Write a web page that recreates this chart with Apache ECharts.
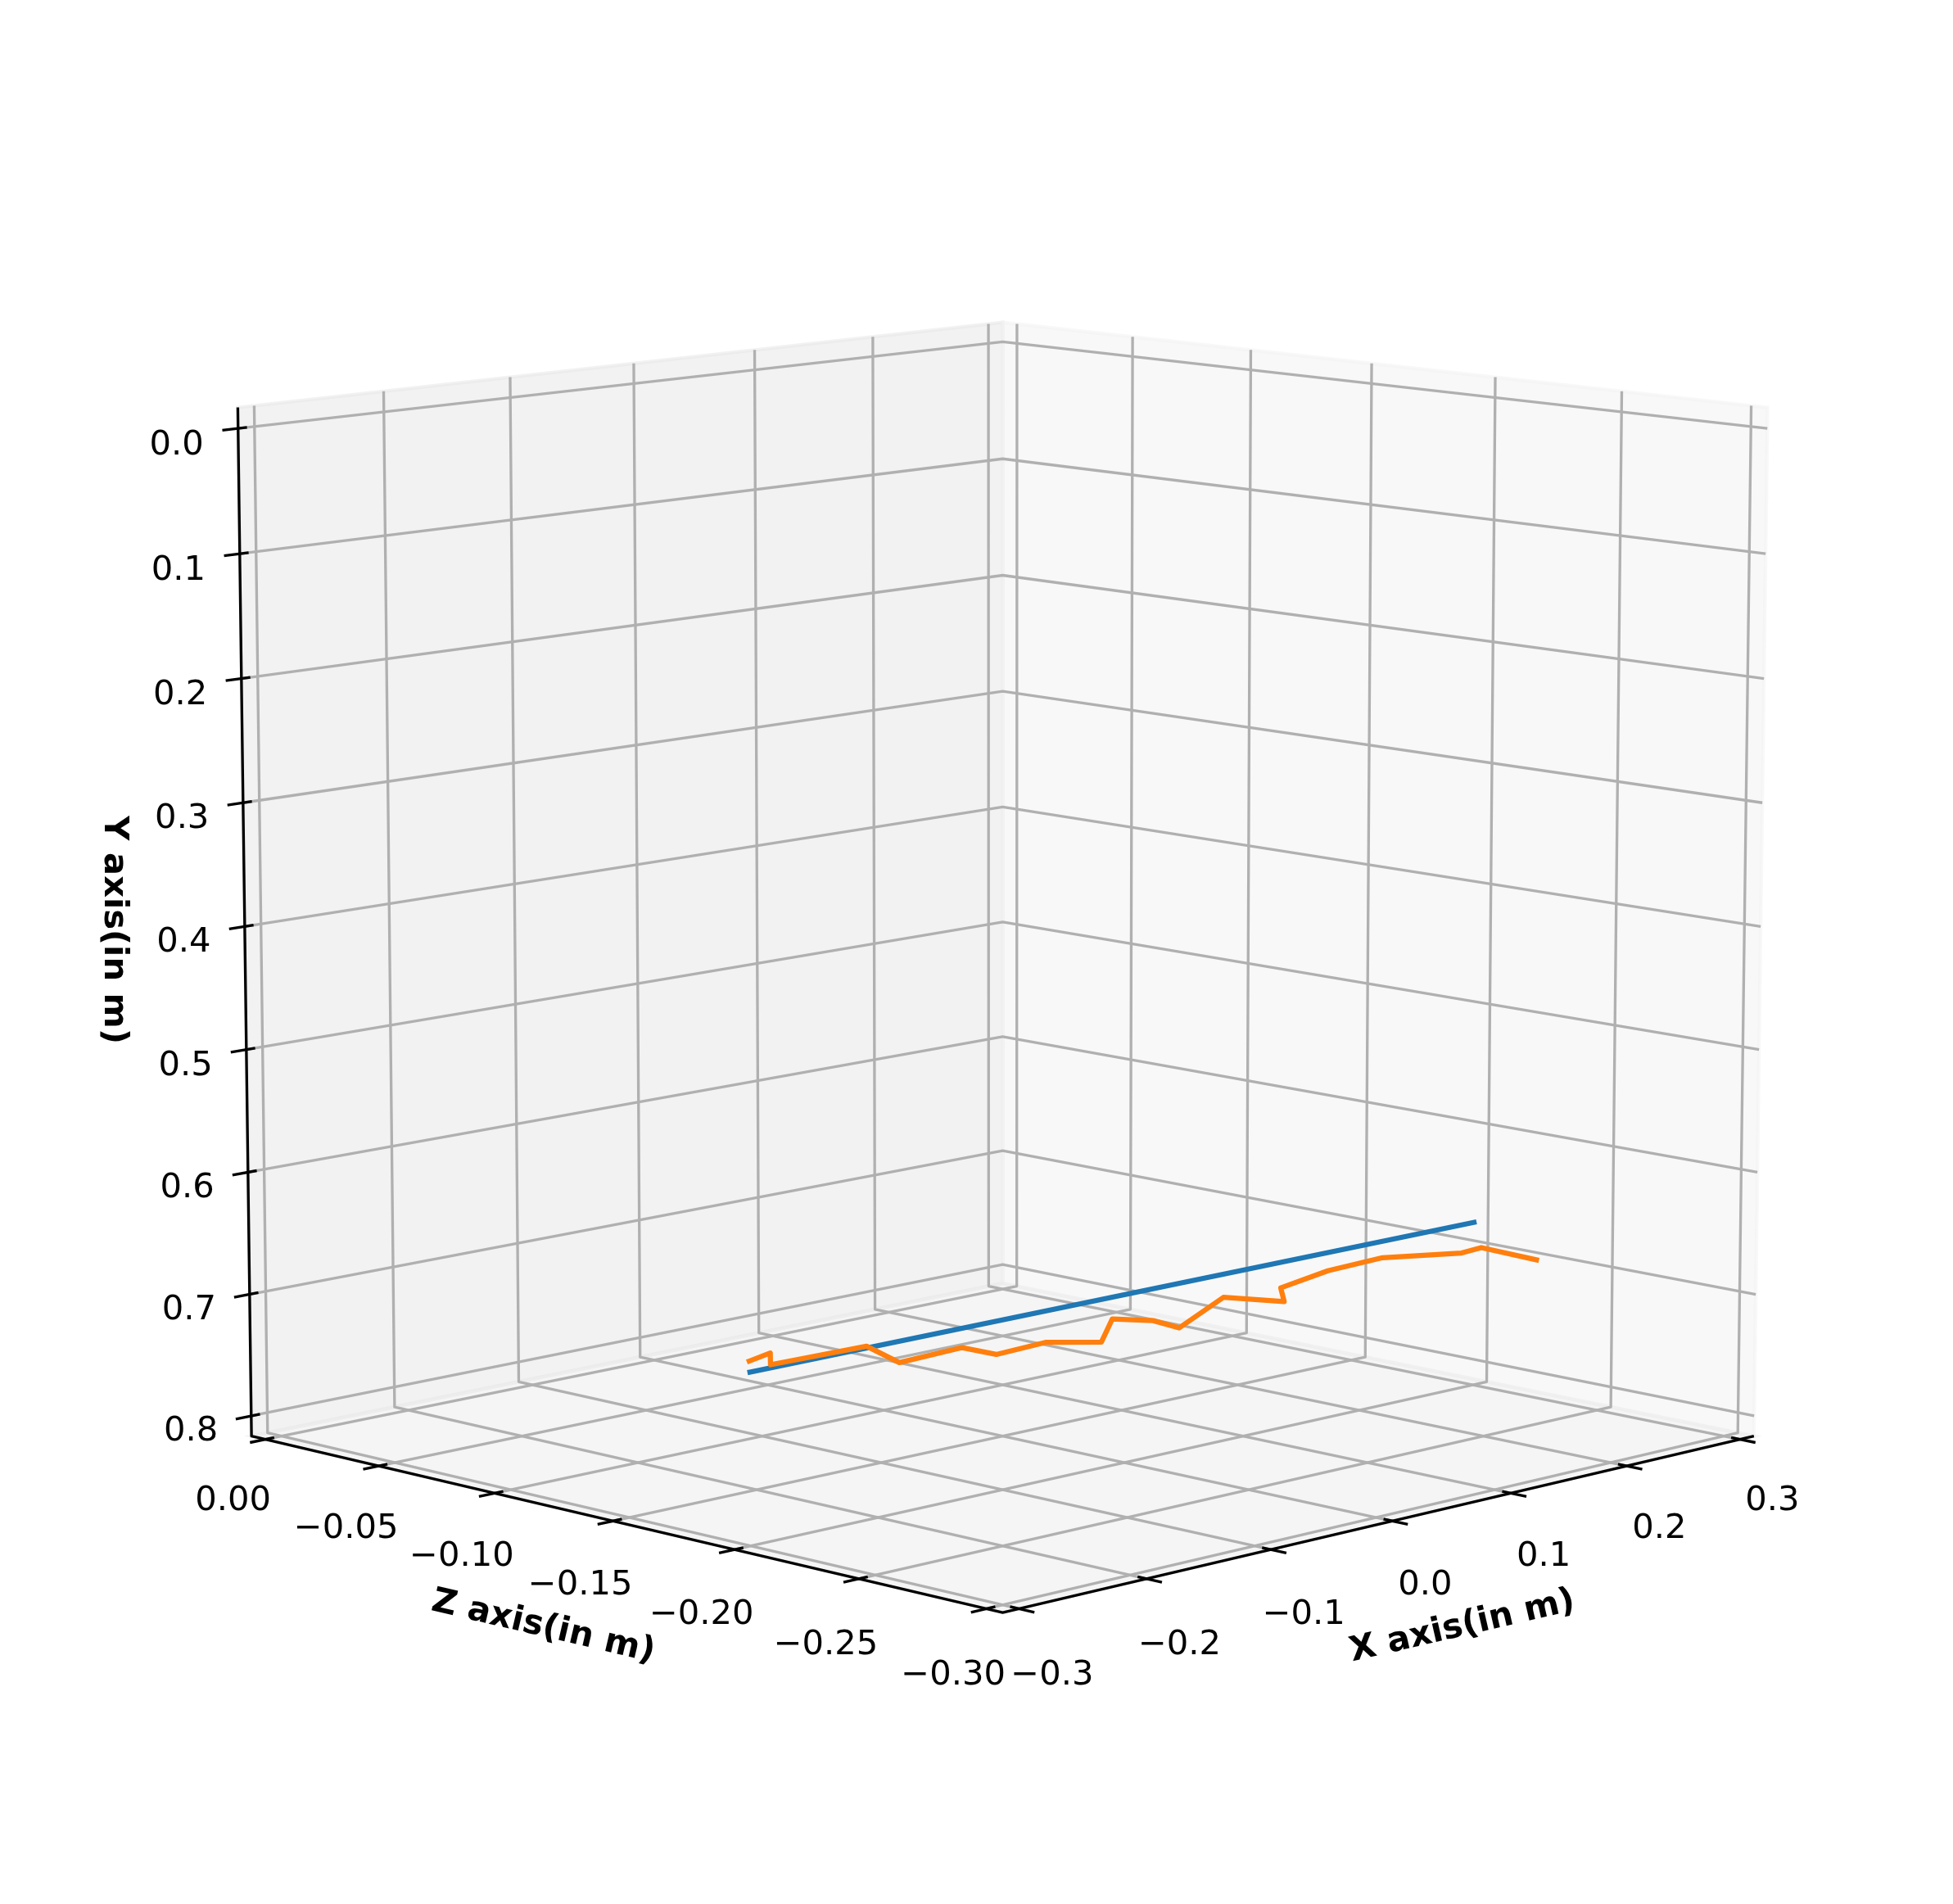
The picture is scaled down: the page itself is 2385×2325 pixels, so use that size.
<!DOCTYPE html>
<html>
<head>
<meta charset="utf-8">
<style>html,body{margin:0;padding:0;background:#fff}#c{width:2385px;height:2325px}</style>
<script src="https://cdn.jsdelivr.net/npm/echarts@6/dist/echarts.min.js"></script>
</head>
<body>
<div id="c"></div>
<script>
// ---- data ----
const xTicks = [-0.3, -0.2, -0.1, 0.0, 0.1, 0.2, 0.3];
const yTicks = [0.0, 0.1, 0.2, 0.3, 0.4, 0.5, 0.6, 0.7, 0.8];
const zTicks = [0.0, -0.05, -0.10, -0.15, -0.20, -0.25, -0.30];
const xTickLabels = ['\u22120.3', '\u22120.2', '\u22120.1', '0.0', '0.1', '0.2', '0.3'];
const yTickLabels = ['0.0', '0.1', '0.2', '0.3', '0.4', '0.5', '0.6', '0.7', '0.8'];
const zTickLabels = ['0.00', '\u22120.05', '\u22120.10', '\u22120.15', '\u22120.20', '\u22120.25', '\u22120.30'];
const xAxisName = 'X axis(in m)';
const yAxisName = 'Y axis(in m)';
const zAxisName = 'Z axis(in m)';

const blueX = [-0.3, 0.3];
const blueY = [0.68, 0.68];
const blueZ = [-0.2, -0.2];

const orangeX = [-0.3005, -0.2842, -0.2841, -0.2089, -0.1830, -0.1328, -0.1052, -0.0652, -0.0192, -0.0102,
                 0.0238, 0.0456, 0.0828, 0.1346, 0.1316, 0.1721, 0.2195, 0.2892, 0.3067, 0.3563];
const orangeY = [0.6713, 0.6683, 0.6776, 0.6786, 0.6970, 0.6955, 0.7067, 0.7053, 0.7146, 0.6977,
                 0.7060, 0.7164, 0.6990, 0.7129, 0.7011, 0.6951, 0.6937, 0.7036, 0.7025, 0.7227];
const orangeZ = [-0.2, -0.2, -0.2, -0.2, -0.2, -0.2, -0.2, -0.2, -0.2, -0.2,
                 -0.2, -0.2, -0.2, -0.2, -0.2, -0.2, -0.2, -0.2, -0.2, -0.2];

// ---- 3D view ----
const W = 2385, H = 2325;
const XLIM = [-0.3, 0.3], YLIM = [0.8, 0.0], ZLIM = [-0.3, 0.0];
const ELEV = 10 * Math.PI / 180, AZIM = -135 * Math.PI / 180, DIST = 10;
const SX = 12567, SY = 12243, CX = 1224.5, CY = 1131.3;
const PANE = 0.5 + 1 / 48;
const FONT = 41.67;

const R = [-Math.sin(AZIM), Math.cos(AZIM), 0];
const U = [-Math.sin(ELEV) * Math.cos(AZIM), -Math.sin(ELEV) * Math.sin(AZIM), Math.cos(ELEV)];
const N = [Math.cos(ELEV) * Math.cos(AZIM), Math.cos(ELEV) * Math.sin(AZIM), Math.sin(ELEV)];
const dot = (a, b) => a[0] * b[0] + a[1] * b[1] + a[2] * b[2];
function cube(p) {
  const d = DIST - dot(p, N);
  return [CX + SX * dot(p, R) / d, CY - SY * dot(p, U) / d];
}
const cx = v => (v - XLIM[0]) / (XLIM[1] - XLIM[0]) - 0.5;
const cy = v => (v - YLIM[0]) / (YLIM[1] - YLIM[0]) - 0.5;
const cz = v => (v - ZLIM[0]) / (ZLIM[1] - ZLIM[0]) - 0.5;
const project = (x, y, z) => cube([cx(x), cz(z), cy(y)]);

// ---- helpers ----
function lineSeries(points, color, width, z, cap) {
  return {
    type: 'line', data: points, showSymbol: false, symbol: 'none', silent: true, clip: false,
    animation: false, z: z, connectNulls: false,
    lineStyle: { color: color, width: width, cap: cap || 'butt', join: 'round', opacity: 1 },
    emphasis: { disabled: true }
  };
}
function polySeries(polys) {
  return {
    type: 'custom', coordinateSystem: 'cartesian2d', silent: true, animation: false, z: 1, clip: false,
    data: polys.map((p, i) => [i, 0]),
    renderItem: function (params, api) {
      const poly = polys[params.dataIndex];
      return {
        type: 'polygon',
        shape: { points: poly.pts.map(q => api.coord(q)) },
        style: { fill: poly.color, stroke: poly.color, lineWidth: 4.17 }
      };
    }
  };
}
function textSeries(items) {
  return {
    type: 'custom', coordinateSystem: 'cartesian2d', silent: true, animation: false, z: 8, clip: false,
    data: items.map(t => [t.pos[0], t.pos[1]]),
    renderItem: function (params, api) {
      const t = items[params.dataIndex];
      const c = api.coord(t.pos);
      return {
        type: 'text', x: c[0], y: c[1], rotation: (t.rot || 0) * Math.PI / 180,
        style: {
          text: t.text, fill: '#000', textAlign: 'center', textVerticalAlign: 'middle',
          font: (t.bold ? 'bold ' : '') + FONT + 'px "DejaVu Sans"'
        }
      };
    }
  };
}

// ---- panes ----
const pane = (a, b, c, d, color) => ({ pts: [a, b, c, d].map(cube), color: color });
const P = PANE;
const panes = [
  pane([-P, P, -P], [P, P, -P], [P, P, P], [-P, P, P], 'rgba(230,230,230,0.5)'),
  pane([P, -P, -P], [P, P, -P], [P, P, P], [P, -P, P], 'rgba(242,242,242,0.5)'),
  pane([-P, -P, -P], [P, -P, -P], [P, P, -P], [-P, P, -P], 'rgba(236,236,236,0.5)')
];

const series = [polySeries(panes)];

// ---- grid ----
const GRID = '#b0b0b0', GW = 3.33;
xTicks.forEach(v => {
  const a = cx(v);
  series.push(lineSeries([[a, -P, -P], [a, P, -P], [a, P, P]].map(cube), GRID, GW, 2));
});
zTicks.forEach(v => {
  const b = cz(v);
  series.push(lineSeries([[-P, b, -P], [P, b, -P], [P, b, P]].map(cube), GRID, GW, 2));
});
yTicks.forEach(v => {
  const c = cy(v);
  series.push(lineSeries([[-P, P, c], [P, P, c], [P, -P, c]].map(cube), GRID, GW, 2));
});

// ---- axis lines and ticks ----
const AXC = '#000', AW = 3.33, TOUT = 0.02, TIN = 0.0113;
series.push(lineSeries([[-P, P, P], [-P, P, -P], [-P, -P, -P], [P, -P, -P]].map(cube), AXC, AW, 3));
yTicks.forEach(v => {
  const c = cy(v);
  series.push(lineSeries([[-P - TOUT, P, c], [-P + TIN, P, c]].map(cube), AXC, AW, 4));
});
zTicks.forEach(v => {
  const b = cz(v);
  series.push(lineSeries([[-P - TOUT, b, -P], [-P + TIN, b, -P]].map(cube), AXC, AW, 4));
});
xTicks.forEach(v => {
  const a = cx(v);
  series.push(lineSeries([[a, -P - TOUT, -P], [a, -P + TIN, -P]].map(cube), AXC, AW, 4));
});

// ---- data lines ----
series.push(lineSeries(blueX.map((v, i) => project(v, blueY[i], blueZ[i])), '#1f77b4', 6.25, 5, 'square'));
series.push(lineSeries(orangeX.map((v, i) => project(v, orangeY[i], orangeZ[i])), '#ff7f0e', 6.25, 6, 'square'));

// ---- text ----
const texts = [];
yTicks.forEach((v, i) => {
  const c = cy(v);
  texts.push({ text: yTickLabels[i], pos: cube([-P - 0.0778, P, c - (0.007 + 0.0059 * c)]) });
});
zTicks.forEach((v, i) => texts.push({ text: zTickLabels[i], pos: cube([-P - 0.0428, cz(v), -P - 0.057]) }));
xTicks.forEach((v, i) => texts.push({ text: xTickLabels[i], pos: cube([cx(v), -P - 0.0428, -P - 0.057]) }));
texts.push({ text: yAxisName, bold: true, rot: -90, pos: cube([-P - 0.0907, P + 0.0896, -0.0035]) });
texts.push({ text: zAxisName, bold: true, rot: -13.2, pos: cube([-P - 0.0905, 0, -P - 0.090]) });
texts.push({ text: xAxisName, bold: true, rot: 13, pos: cube([0, -P - 0.0907, -P - 0.0895]) });
series.push(textSeries(texts));

const chart = echarts.init(document.getElementById('c'), null, { width: W, height: H, renderer: 'canvas' });
chart.setOption({
  backgroundColor: '#ffffff',
  animation: false,
  tooltip: { show: false },
  legend: { show: false },
  grid: { left: 0, right: 0, top: 0, bottom: 0, containLabel: false },
  xAxis: { type: 'value', min: 0, max: W, show: false, scale: true },
  yAxis: { type: 'value', min: 0, max: H, inverse: true, show: false, scale: true },
  series: series
});
</script>
</body>
</html>
